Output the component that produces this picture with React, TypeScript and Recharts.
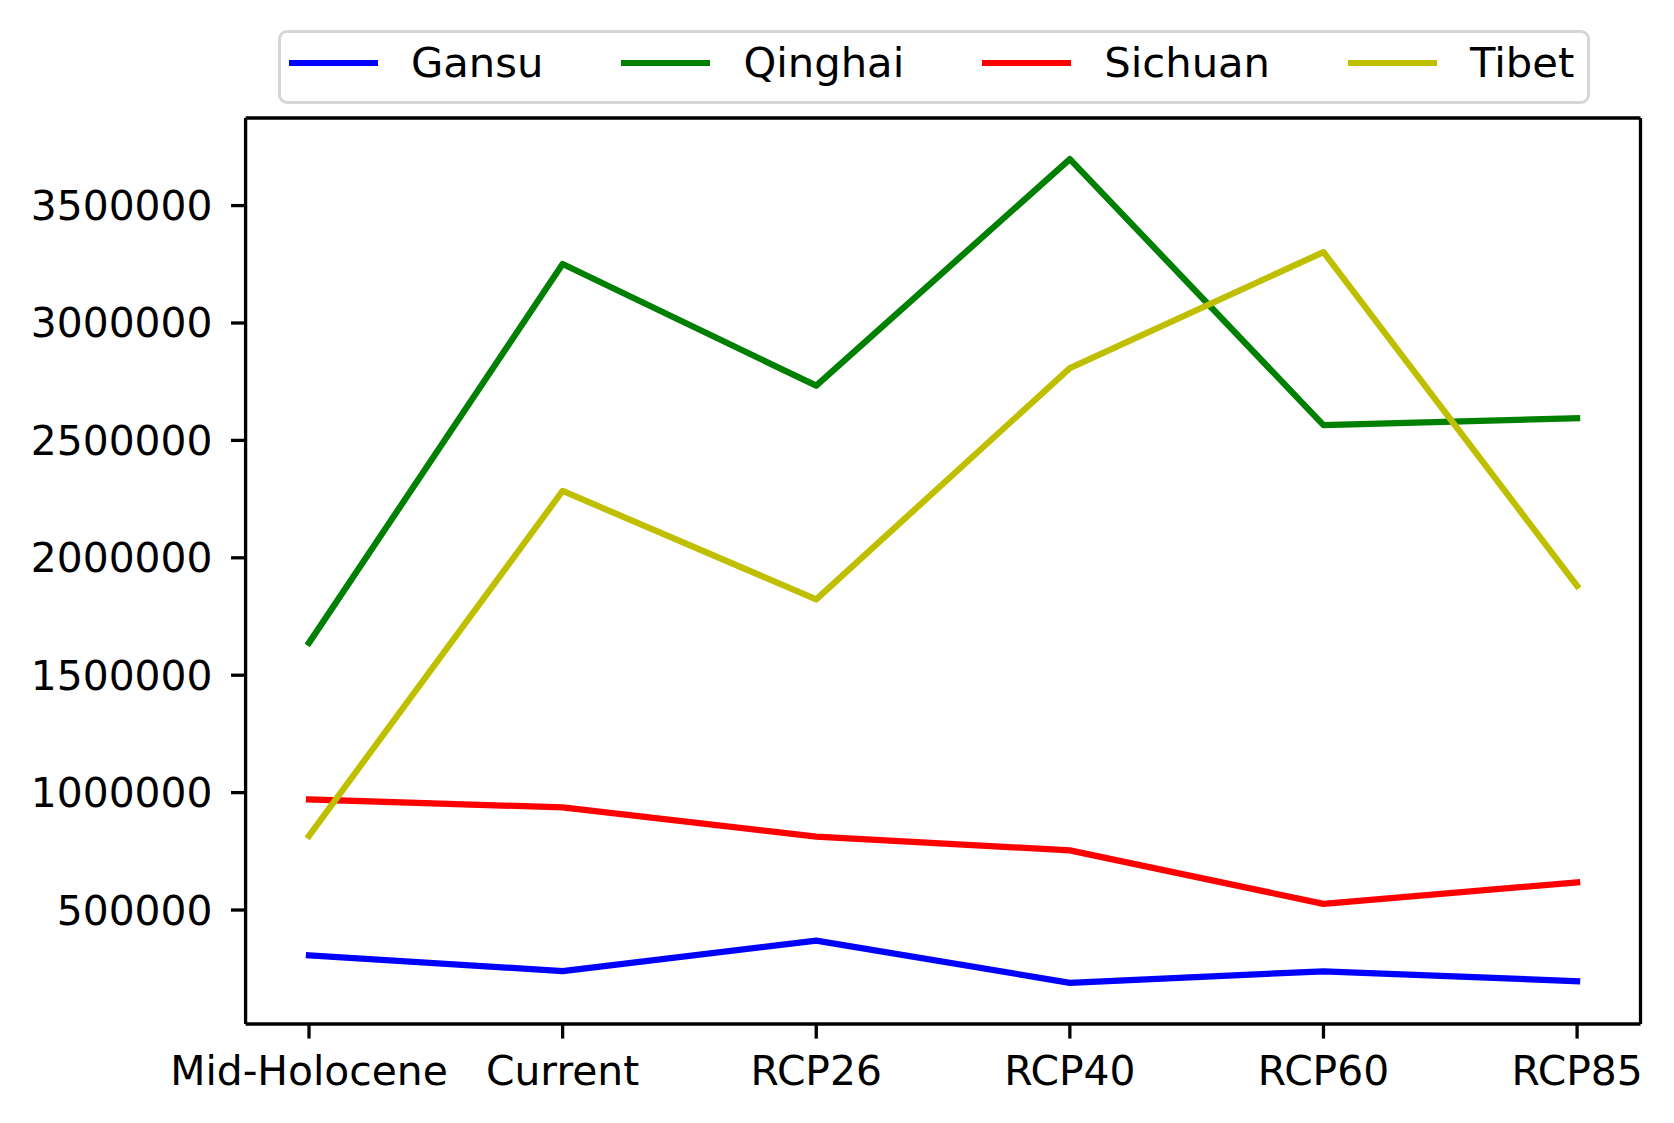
import React from 'react';
import { LineChart, Line, XAxis, YAxis, Legend, ReferenceLine } from 'recharts';

const categories = ['Mid-Holocene', 'Current', 'RCP26', 'RCP40', 'RCP60', 'RCP85'];

const gansu = [307000, 240000, 370000, 190000, 239000, 197000];
const qinghai = [1638000, 3251000, 2733000, 3698000, 2565000, 2595000];
const sichuan = [971000, 937000, 813000, 754000, 526000, 618000];
const tibet = [816000, 2285000, 1823000, 2808000, 3302000, 1880000];

const yTicks = [500000, 1000000, 1500000, 2000000, 2500000, 3000000, 3500000];

const series = [
  { name: 'Gansu', color: '#0000ff' },
  { name: 'Qinghai', color: '#008000' },
  { name: 'Sichuan', color: '#ff0000' },
  { name: 'Tibet', color: '#bfbf00' },
];

const data = categories.map((c, i) => ({
  x: i,
  name: c,
  Gansu: gansu[i],
  Qinghai: qinghai[i],
  Sichuan: sichuan[i],
  Tibet: tibet[i],
}));

const FONT = '"DejaVu Sans", sans-serif';
const tickStyle = { fill: '#000', fontSize: 40.8, fontFamily: FONT };
const xDomain = [-0.25, 5.25];
const yDomain = [14600, 3873000];

function LegendBox() {
  return (
    <div
      style={{
        boxSizing: 'border-box',
        width: 1312,
        height: 74,
        border: '3px solid #d6d6d6',
        borderRadius: 9,
        background: 'rgba(255,255,255,0.8)',
        display: 'flex',
        alignItems: 'center',
        paddingLeft: 8,
        paddingBottom: 8,
        fontFamily: FONT,
        fontSize: 41.7,
        color: '#000',
      }}
    >
      {series.map((s, i) => (
        <div key={s.name} style={{ display: 'flex', alignItems: 'center', marginRight: i < series.length - 1 ? 78 : 0 }}>
          <div style={{ width: 89, height: 6, background: s.color, marginRight: 33 }} />
          <span style={{ lineHeight: '48px' }}>{s.name}</span>
        </div>
      ))}
    </div>
  );
}

export default function App() {
  return (
    <div style={{ position: 'absolute', left: 0, top: 0, width: 1674, height: 1123, background: '#fff' }}>
      <LineChart width={1674} height={1123} data={data} margin={{ top: 118, right: 33.5, bottom: 0, left: 0 }}>
        <XAxis
          dataKey="x"
          type="number"
          domain={xDomain}
          ticks={[0, 1, 2, 3, 4, 5]}
          tickFormatter={(v: number) => categories[v]}
          height={99}
          tick={tickStyle}
          tickSize={14.6}
          tickMargin={17}
          stroke="#000"
          strokeWidth={3.3}
          tickLine={{ stroke: '#000', strokeWidth: 3.3 }}
          allowDataOverflow
          interval={0}
        />
        <YAxis
          type="number"
          domain={yDomain}
          ticks={yTicks}
          width={245.6}
          tick={tickStyle}
          tickSize={14.6}
          tickMargin={18.5}
          stroke="#000"
          strokeWidth={3.3}
          tickLine={{ stroke: '#000', strokeWidth: 3.3 }}
          allowDataOverflow
          interval={0}
        />
        <ReferenceLine y={yDomain[1]} stroke="#000" strokeWidth={3.3} />
        <ReferenceLine x={xDomain[1]} stroke="#000" strokeWidth={3.3} />
        {series.map((s) => (
          <Line
            key={s.name}
            type="linear"
            dataKey={s.name}
            stroke={s.color}
            strokeWidth={6.25}
            strokeLinejoin="round"
            strokeLinecap="square"
            dot={false}
            activeDot={false}
            isAnimationActive={false}
          />
        ))}
        <Legend
          verticalAlign="middle"
          align="center"
          content={() => <LegendBox />}
          wrapperStyle={{ position: 'absolute', top: 30, left: 278, width: 1312, height: 74 }}
        />
      </LineChart>
    </div>
  );
}
